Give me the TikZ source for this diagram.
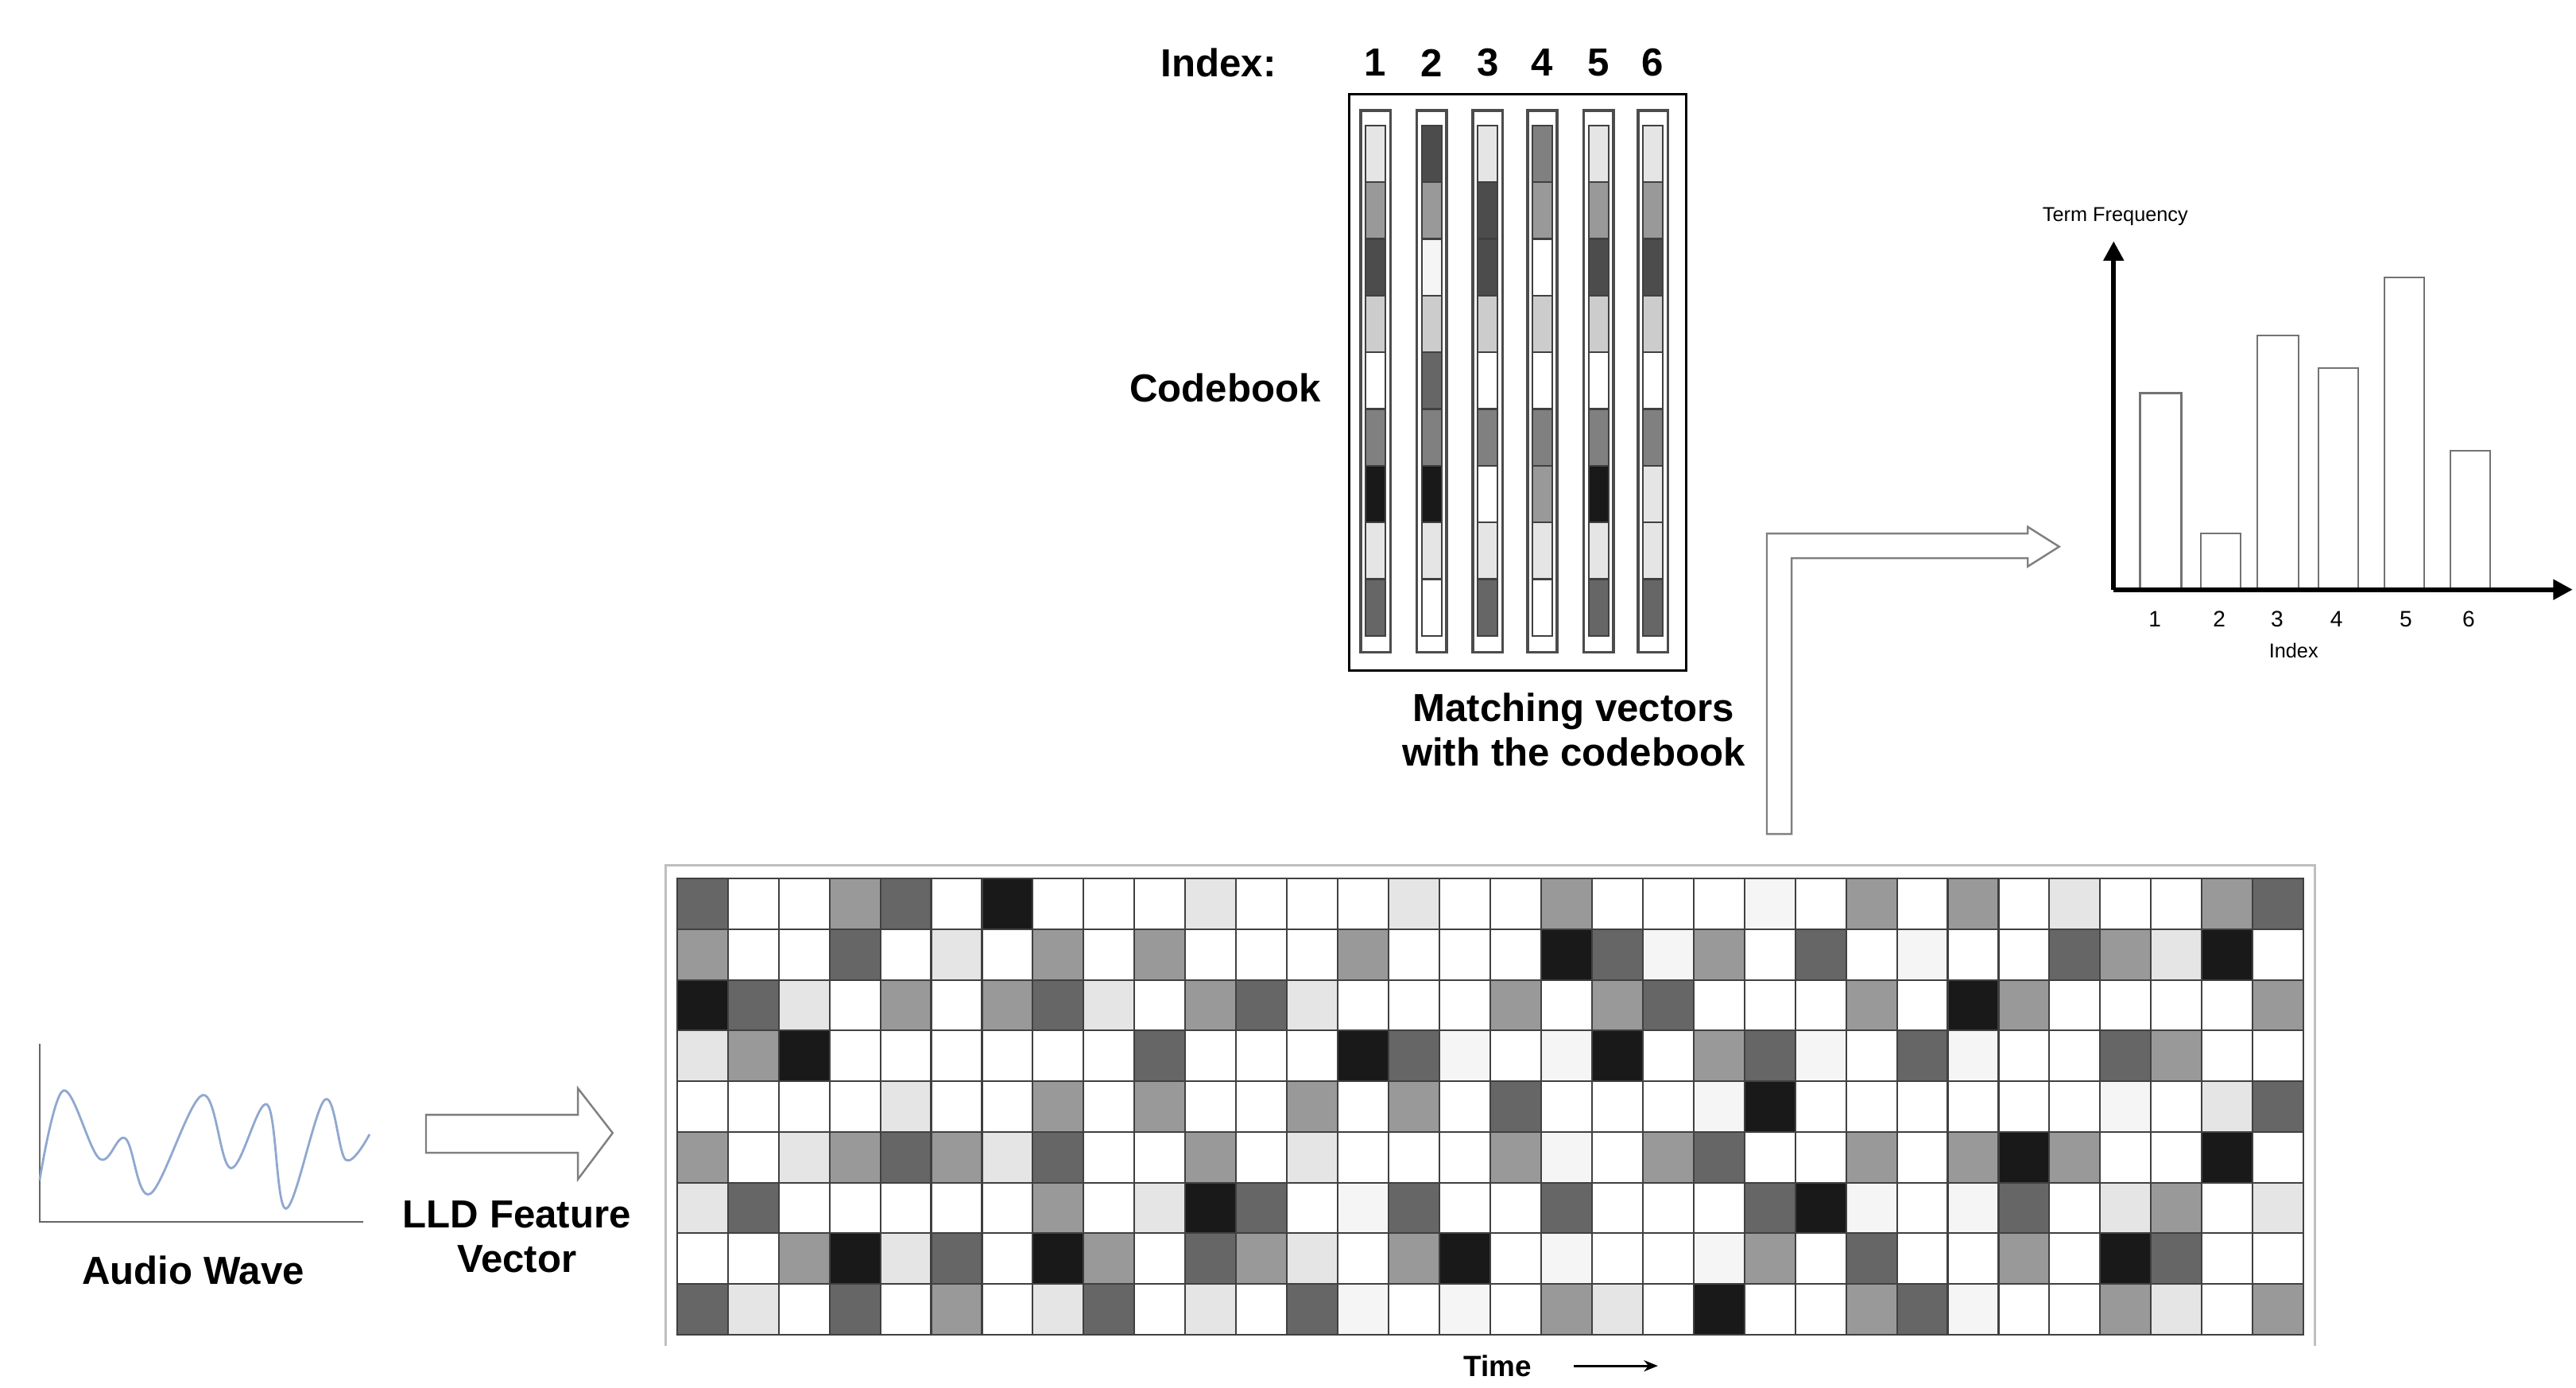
\documentclass[tikz,border=0pt]{standalone}
\usepackage{fontspec}
\setmainfont{Liberation Sans}
\usetikzlibrary{arrows.meta}
\definecolor{cW}{gray}{1}
\definecolor{cL}{gray}{0.96}
\definecolor{cE}{gray}{0.9}
\definecolor{cC}{gray}{0.8}
\definecolor{cG}{gray}{0.6}
\definecolor{cM}{gray}{0.5}
\definecolor{cD}{gray}{0.4}
\definecolor{cT}{gray}{0.3}
\definecolor{cK}{gray}{0.1}
\definecolor{wave}{HTML}{8FA8D0}
\tikzset{
  big/.style={font=\fontsize{14}{16}\selectfont\bfseries},
  small/.style={font=\fontsize{7.2}{8.5}\selectfont},
  cell/.style={draw=black!75, line width=0.6pt},
  hollow/.style={draw=black!50, line width=0.7pt, fill=white},
  bar/.style={draw=black!55, line width=0.6pt, fill=white},
  axis/.style={line width=1.8pt, -{Triangle[length=7pt,width=7pt]}},
}
\begin{document}
\begin{tikzpicture}[x=0.020776cm,y=-0.020776cm]
\useasboundingbox[fill=white] (0,0) rectangle (1560,840);

% ---- codebook ----
\node[big] (indexlbl) at (738,38) {Index:};
\foreach \x [count=\i] in {833,867,901,934,968,1001}
  \node[big] (idx\i) at (\x,38) {\i};
\draw[black, line width=0.8pt] (817,57) rectangle (1021,406);
\node[big] (codebook) at (742,235) {Codebook};
\foreach \x/\col in {833/{cE,cG,cT,cC,cW,cM,cK,cE,cD},
                     867/{cT,cG,cL,cC,cD,cM,cK,cE,cW},
                     901/{cE,cT,cT,cC,cW,cM,cW,cE,cD},
                     934/{cM,cG,cW,cC,cW,cM,cG,cE,cW},
                     968/{cE,cG,cT,cC,cW,cM,cK,cE,cD},
                     1001/{cE,cG,cT,cC,cW,cM,cE,cE,cD}} {
  \draw[black!70, line width=1pt] (\x-9,67) rectangle (\x+9,395);
  \foreach \c [count=\j] in \col
    \draw[cell, fill=\c] (\x-6,{76+(\j-1)*34.33}) rectangle (\x+6,{76+\j*34.33});
}
\node[big, align=center] (match) at (953,442) {Matching vectors\\with the codebook};

% ---- L arrow ----
\draw[hollow] (1070,505) -- (1070,323) -- (1228,323) -- (1228,319) -- (1247,331)
  -- (1228,343) -- (1228,338) -- (1085,338) -- (1085,505) -- cycle;

% ---- chart ----
\node[small] (tf) at (1281,131) {Term Frequency};
\foreach \a/\b/\t in {1296/1321/238,1333/1357/323,1367/1392/203,1404/1428/223,1444/1468/168,1484/1508/273}
  \draw[bar] (\a,357) rectangle (\b,\t);
\coordinate (orig) at (1280,357);
\coordinate (ytop) at (1280,146);
\coordinate (xend) at (1558,357);
\draw[axis] (orig) -- (ytop);
\draw[axis] (orig) -- (xend);
\foreach \x [count=\i] in {1305,1344,1379,1415,1457,1495}
  \node[small, font=\fontsize{8}{9}\selectfont] (tick\i) at (\x,375) {\i};
\node[small] (indexax) at (1389,394) {Index};

% ---- grid ----
\draw[black!25, line width=0.8pt] (403,815) -- (403,524) -- (1402,524) -- (1402,815);
\foreach \row [count=\r] in {
 {D,W,W,G,D,W,K,W,W,W,E,W,W,W,E,W,W,G,W,W,W,L,W,G,W,G,W,E,W,W,G,D},
 {G,W,W,D,W,E,W,G,W,G,W,W,W,G,W,W,W,K,D,L,G,W,D,W,L,W,W,D,G,E,K,W},
 {K,D,E,W,G,W,G,D,E,W,G,D,E,W,W,W,G,W,G,D,W,W,W,G,W,K,G,W,W,W,W,G},
 {E,G,K,W,W,W,W,W,W,D,W,W,W,K,D,L,W,L,K,W,G,D,L,W,D,L,W,W,D,G,W,W},
 {W,W,W,W,E,W,W,G,W,G,W,W,G,W,G,W,D,W,W,W,L,K,W,W,W,W,W,W,L,W,E,D},
 {G,W,E,G,D,G,E,D,W,W,G,W,E,W,W,W,G,L,W,G,D,W,W,G,W,G,K,G,W,W,K,W},
 {E,D,W,W,W,W,W,G,W,E,K,D,W,L,D,W,W,D,W,W,W,D,K,L,W,L,D,W,E,G,W,E},
 {W,W,G,K,E,D,W,K,G,W,D,G,E,W,G,K,W,L,W,W,L,G,W,D,W,W,G,W,K,D,W,W},
 {D,E,W,D,W,G,W,E,D,W,E,W,D,L,W,L,W,G,E,W,K,W,W,G,D,L,W,W,G,E,W,G}} {
  \foreach \c [count=\k] in \row
    \draw[cell, fill=c\c] ({410+(\k-1)*30.78},{532+(\r-1)*30.67}) rectangle ({410+\k*30.78},{532+\r*30.67});
}
\node[font=\fontsize{10.5}{12}\selectfont\bfseries] (time) at (907,827) {Time};
\coordinate (timeend) at (1004,827);
\draw[line width=0.9pt, -{Stealth[length=5pt,width=4pt]}] (953,827) -- (timeend);

% ---- wave ----
\draw[black!60, line width=0.6pt] (24,632) -- (24,740) -- (220,740);
\draw[wave, line width=0.8pt] plot[smooth, tension=0.6] coordinates {
 (24,714.6) (38.4,660.3) (60.2,701.5) (75.9,689.3) (91,722.8) (122.6,663.1)
 (139.8,707.3) (161.8,668.8) (173.2,731.8) (196.7,665.9) (209.4,702.3) (223.8,686.8)};
\node[big] (audio) at (117,769) {Audio Wave};

% ---- LLD arrow ----
\draw[hollow] (258,675) -- (350,675) -- (350,659) -- (371,686) -- (350,714)
  -- (350,698) -- (258,698) -- cycle;
\node[big, align=center] (lld) at (313,749) {LLD Feature\\Vector};
\end{tikzpicture}
\end{document}
